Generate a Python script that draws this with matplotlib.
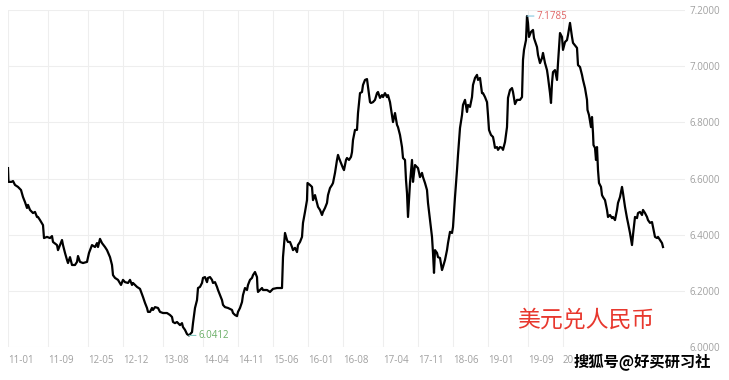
import matplotlib
matplotlib.use("Agg")
import matplotlib.pyplot as plt

plt.rcParams['font.family'] = ['Open Sans', 'Noto Sans CJK SC', 'DejaVu Sans']

# months since 2011-01
month = [
    0.0, 0.1, 0.7, 1.0, 1.4, 2.0, 2.6, 3.0, 3.4, 3.8, 4.0, 4.4, 5.0, 5.4, 5.8, 6.0, 6.4, 7.0, 7.2, 7.8,
    8.4, 8.8, 9.0, 9.8, 10.0, 10.4, 10.8, 11.0, 11.4, 11.8, 12.0, 12.4, 12.8, 13.4, 13.8, 14.0, 14.4, 15.0, 15.8, 16.2,
    16.8, 17.4, 17.8, 18.0, 18.4, 18.8, 19.4, 19.8, 20.4, 20.8, 21.0, 21.4, 22.0, 22.6, 23.0, 23.4, 24.0, 24.4, 24.8, 25.0,
    25.4, 25.8, 26.4, 27.0, 27.4, 27.8, 28.0, 28.4, 28.8, 29.0, 29.4, 30.0, 30.4, 31.0, 31.8, 32.4, 32.8, 33.0, 33.4, 33.8,
    34.4, 34.8, 35.0, 35.4, 35.8, 36.2, 36.8, 37.0, 37.4, 37.8, 38.0, 38.4, 38.8, 39.0, 39.4, 39.8, 40.0, 40.4, 40.8, 41.0,
    41.4, 41.8, 42.0, 42.4, 42.8, 43.0, 43.4, 44.0, 44.8, 45.0, 45.4, 45.8, 46.0, 46.4, 46.8, 47.0, 47.4, 47.8, 48.0, 48.4,
    48.8, 49.0, 49.4, 49.8, 49.9, 50.0, 50.8, 51.0, 51.8, 52.4, 53.0, 53.8, 54.4, 54.8, 55.0, 55.4, 55.8, 56.0, 56.4, 56.8,
    57.0, 57.4, 57.8, 58.0, 58.4, 58.8, 59.0, 59.4, 59.8, 59.9, 60.4, 60.8, 61.0, 61.4, 61.8, 62.0, 62.4, 62.8, 63.0, 63.4,
    63.8, 64.0, 64.4, 64.8, 65.0, 65.4, 65.8, 66.0, 66.2, 66.6, 67.0, 67.2, 67.6, 67.8, 68.2, 68.6, 68.8, 69.0, 69.4, 69.8,
    70.0, 70.4, 70.8, 71.0, 71.4, 71.8, 72.0, 72.4, 72.6, 73.0, 73.4, 73.8, 74.0, 74.4, 74.8, 75.0, 75.4, 75.8, 76.0, 76.4,
    76.8, 77.0, 77.4, 77.8, 78.0, 78.4, 78.8, 79.0, 79.4, 79.6, 79.8, 80.0, 80.4, 80.8, 81.0, 81.2, 81.4, 81.8, 82.0, 82.4,
    82.8, 83.0, 83.4, 83.8, 84.0, 84.4, 84.8, 85.0, 85.2, 85.4, 85.8, 86.0, 86.4, 86.8, 87.0, 87.4, 87.8, 88.0, 88.4, 88.8,
    89.0, 89.4, 89.8, 90.0, 90.4, 90.8, 91.0, 91.4, 91.8, 92.0, 92.4, 92.8, 93.0, 93.4, 93.8, 94.0, 94.4, 94.8, 95.0, 95.4,
    95.8, 96.0, 96.2, 96.6, 97.0, 97.2, 97.4, 97.8, 98.0, 98.4, 98.8, 99.0, 99.4, 99.8, 100.0, 100.4, 100.8, 101.0, 101.4, 101.8,
    102.4, 102.8, 103.0, 103.2, 103.6, 103.8, 104.0, 104.2, 104.6, 105.0, 105.2, 105.8, 106.0, 106.4, 106.8, 107.0, 107.4, 107.8, 108.0, 108.4,
    108.6, 108.8, 109.0, 109.4, 109.8, 110.0, 110.4, 110.8, 111.0, 111.4, 111.8, 112.0, 112.4, 112.8, 113.0, 113.8, 114.0, 114.4, 114.8, 115.0,
    115.4, 115.8, 115.9, 116.2, 116.6, 116.8, 117.0, 117.1, 117.4, 117.6, 117.8, 118.0, 118.2, 118.6, 118.8, 119.0, 119.4, 119.8, 120.0, 120.4,
    120.8, 121.0, 121.4, 121.8, 122.0, 122.4, 122.8, 123.0, 123.4, 123.8, 124.0, 124.4, 124.8, 125.0, 125.4, 125.8, 126.0, 126.4, 126.8, 127.0,
    127.4, 127.8, 128.0, 128.4, 128.8, 129.0, 129.4, 129.8, 130.0, 130.4, 130.8, 131.0,
]

# USD/CNY
rate = [
    6.637, 6.588, 6.588, 6.591, 6.577, 6.570, 6.559, 6.534, 6.516, 6.495, 6.506, 6.488, 6.477, 6.481, 6.463, 6.463, 6.452, 6.434, 6.388, 6.392,
    6.388, 6.395, 6.374, 6.363, 6.345, 6.363, 6.381, 6.363, 6.335, 6.310, 6.299, 6.320, 6.292, 6.292, 6.303, 6.324, 6.303, 6.299, 6.303, 6.335,
    6.363, 6.356, 6.370, 6.356, 6.385, 6.370, 6.356, 6.345, 6.320, 6.292, 6.256, 6.246, 6.239, 6.221, 6.239, 6.231, 6.228, 6.239, 6.221, 6.228,
    6.221, 6.214, 6.207, 6.178, 6.157, 6.139, 6.125, 6.125, 6.139, 6.132, 6.142, 6.139, 6.125, 6.121, 6.121, 6.114, 6.107, 6.089, 6.085, 6.089,
    6.078, 6.085, 6.071, 6.061, 6.046, 6.0412, 6.053, 6.085, 6.139, 6.167, 6.210, 6.214, 6.228, 6.246, 6.249, 6.231, 6.246, 6.249, 6.239, 6.228,
    6.231, 6.214, 6.203, 6.185, 6.167, 6.150, 6.142, 6.139, 6.132, 6.121, 6.114, 6.110, 6.125, 6.139, 6.160, 6.185, 6.210, 6.203, 6.221, 6.239,
    6.246, 6.256, 6.267, 6.249, 6.210, 6.196, 6.210, 6.203, 6.203, 6.196, 6.207, 6.210, 6.210, 6.210, 6.320, 6.406, 6.381, 6.374, 6.374, 6.356,
    6.345, 6.353, 6.338, 6.363, 6.374, 6.392, 6.442, 6.481, 6.523, 6.584, 6.577, 6.570, 6.523, 6.541, 6.513, 6.499, 6.488, 6.470, 6.481, 6.495,
    6.513, 6.541, 6.566, 6.577, 6.584, 6.620, 6.666, 6.684, 6.673, 6.655, 6.637, 6.630, 6.666, 6.673, 6.666, 6.677, 6.694, 6.737, 6.773, 6.773,
    6.833, 6.904, 6.908, 6.933, 6.951, 6.954, 6.926, 6.872, 6.869, 6.872, 6.880, 6.904, 6.908, 6.887, 6.897, 6.890, 6.904, 6.890, 6.897, 6.872,
    6.826, 6.801, 6.833, 6.791, 6.783, 6.755, 6.712, 6.673, 6.666, 6.595, 6.548, 6.463, 6.584, 6.666, 6.588, 6.620, 6.648, 6.641, 6.637, 6.605,
    6.620, 6.605, 6.584, 6.559, 6.513, 6.452, 6.392, 6.335, 6.264, 6.345, 6.335, 6.320, 6.317, 6.274, 6.285, 6.310, 6.345, 6.370, 6.410, 6.406,
    6.427, 6.534, 6.630, 6.684, 6.780, 6.826, 6.862, 6.880, 6.837, 6.862, 6.855, 6.890, 6.933, 6.958, 6.969, 6.951, 6.958, 6.904, 6.904, 6.890,
    6.872, 6.826, 6.773, 6.755, 6.748, 6.730, 6.709, 6.712, 6.702, 6.712, 6.709, 6.702, 6.730, 6.783, 6.887, 6.915, 6.922, 6.908, 6.865, 6.880,
    6.880, 6.890, 7.022, 7.058, 7.093, 7.1785, 7.154, 7.104, 7.122, 7.129, 7.100, 7.068, 7.040, 7.011, 7.029, 7.047, 7.011, 6.986, 6.961, 6.904,
    6.869, 6.940, 6.979, 6.986, 6.951, 7.011, 7.118, 7.104, 7.058, 7.086, 7.093, 7.111, 7.154, 7.104, 7.083, 7.065, 7.004, 6.997, 6.969, 6.951,
    6.922, 6.880, 6.844, 6.826, 6.783, 6.819, 6.762, 6.719, 6.709, 6.666, 6.712, 6.630, 6.584, 6.570, 6.541, 6.534, 6.523, 6.488, 6.463, 6.470,
    6.459, 6.463, 6.452, 6.488, 6.513, 6.534, 6.570, 6.548, 6.499, 6.459, 6.442, 6.406, 6.363, 6.399, 6.463, 6.459, 6.477, 6.481, 6.470, 6.488,
    6.477, 6.463, 6.452, 6.442, 6.445, 6.427, 6.392, 6.388, 6.392, 6.381, 6.370, 6.356,
]

# later labels sit under the watermark in the reference, only "20-04" peeks out
tick_labels = ['11-01', '11-09', '12-05', '12-12', '13-08', '14-04', '14-11', '15-06', '16-01',
               '16-08', '17-04', '17-11', '18-06', '19-01', '19-09', '20-04']
y_ticks = [6.0, 6.2, 6.4, 6.6, 6.8, 7.0, 7.2]

tick_pos = [(int(s[:2]) - 11) * 12 + int(s[3:]) - 1 for s in tick_labels]

fig = plt.figure(figsize=(7.29, 3.80), dpi=100)
ax = fig.add_axes([8 / 729, 33 / 380, 677 / 729, 337 / 380])
ax.plot(month, rate, color='black', lw=1.6)

ax.set_xlim(0, 135.4)
ax.set_ylim(6.0, 7.2)
ax.set_xticks(tick_pos)
ax.set_xticklabels(tick_labels, ha='left')
ax.yaxis.tick_right()
ax.set_yticks(y_ticks)
ax.set_yticklabels([f'{v:.4f}' for v in y_ticks])
ax.tick_params(length=0, labelsize=7, colors='#a0a0a0')
ax.tick_params(axis='x', pad=6)
ax.tick_params(axis='y', pad=3)
ax.grid(color='#eeeeee', lw=0.8)
for s in ax.spines.values():
    s.set_visible(False)

# max / min marks
imax = rate.index(max(rate))
imin = rate.index(min(rate))
ax.annotate(f'{rate[imax]:.4f}', xy=(month[imax], rate[imax]), xytext=(7, 0),
            textcoords='offset points', va='center', ha='left', fontsize=7, color='#e06565',
            arrowprops=dict(arrowstyle='-', color='#86c9e0', lw=0.8, shrinkA=0, shrinkB=0))
ax.annotate(f'{rate[imin]:.4f}', xy=(month[imin], rate[imin]), xytext=(7, 0),
            textcoords='offset points', va='center', ha='left', fontsize=7, color='#6aae66',
            arrowprops=dict(arrowstyle='-', color='#86c9c0', lw=0.8, shrinkA=0, shrinkB=0))

fig.text(517 / 729, 1 - 320 / 380, '美元兑人民币', color='#e8382e', fontsize=16.5,
         va='center', ha='left', family=['Noto Sans CJK SC'])
fig.text(574 / 729, 1 - 362 / 380, '搜狐号@好买研习社', color='black', fontsize=11,
         fontweight='bold', va='center', ha='left', family=['Noto Sans CJK SC', 'DejaVu Sans'],
         bbox=dict(facecolor='white', edgecolor='none', pad=1))

fig.savefig('out.png', dpi=100)
